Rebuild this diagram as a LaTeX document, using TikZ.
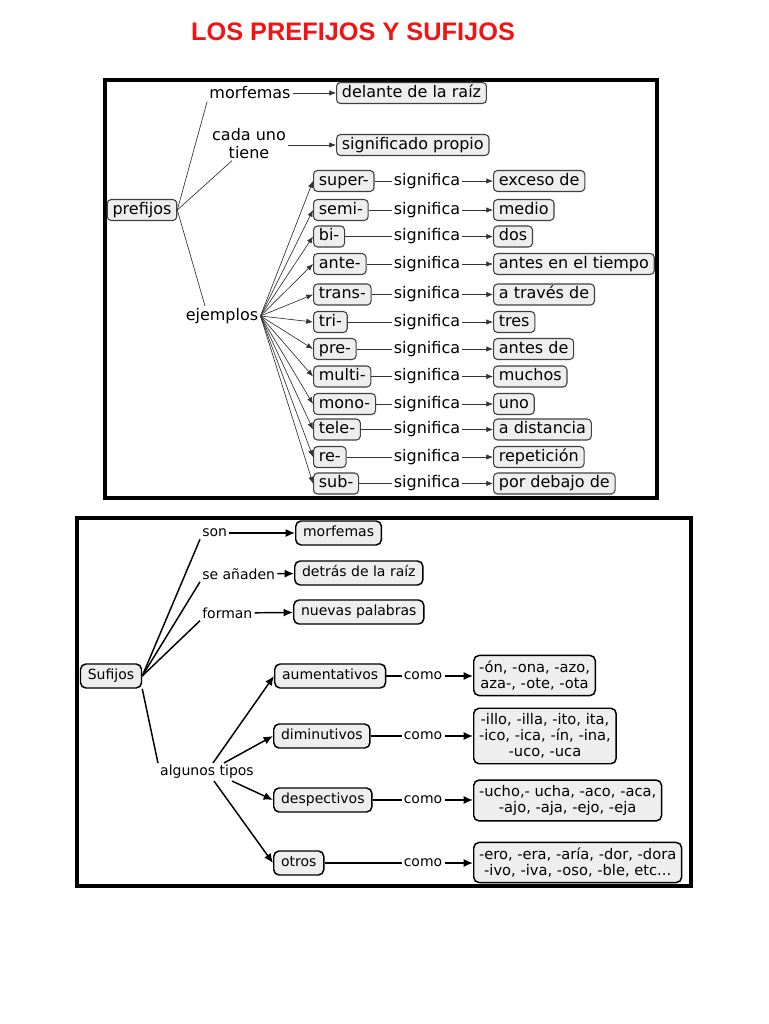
\documentclass[tikz,border=0pt]{standalone}
\usepackage{fontspec}
\setmainfont{DejaVu Sans}
\newfontfamily\titlefont{Liberation Sans}
\usetikzlibrary{arrows.meta,calc}
\definecolor{boxfill}{HTML}{EEEEEE}
\definecolor{titlered}{HTML}{F01414}
\begin{document}
\begin{tikzpicture}[x=0.75pt,y=-0.75pt,
  topbox/.style={draw=black!75, line width=0.8pt, rounded corners=3pt, fill=boxfill,
    font=\fontsize{12}{14}\selectfont, inner xsep=4pt, inner ysep=0pt,
    minimum height=15.75pt, text height=9pt, text depth=2.6pt},
  toplab/.style={font=\fontsize{12}{13}\selectfont, inner sep=1.5pt, align=center},
  topln/.style={draw=black!80, line width=0.5pt},
  toparr/.style={topln, -{Latex[length=5pt,width=4pt]}},
  botbox/.style={draw=black, line width=1.1pt, rounded corners=4pt, fill=boxfill,
    font=\fontsize{10.5}{12}\selectfont, inner xsep=5.5pt, inner ysep=0pt,
    minimum height=18pt, text height=8pt, text depth=2.4pt},
  listbox/.style={draw=black, line width=1.1pt, rounded corners=4pt, fill=boxfill,
    font=\fontsize{11}{12}\selectfont, align=center, inner xsep=4pt, inner ysep=4pt},
  botlab/.style={font=\fontsize{10.5}{12}\selectfont, inner sep=1.5pt},
  botln/.style={draw=black, line width=1.1pt},
  botarr/.style={botln, -{Latex[length=7pt,width=6pt]}},
  frame/.style={draw=black, line width=2.3pt}
]
\useasboundingbox (0,0) rectangle (768,1024);
\fill[white] (0,0) rectangle (768,1024);

% title
\node[font=\titlefont\bfseries\fontsize{19}{22}\selectfont, text=titlered] (title) at (353,32) {LOS PREFIJOS Y SUFIJOS};

% ---------- prefijos panel ----------
\draw[frame] (105,80) rectangle (657,498);

\node[topbox] (pref) at (142,210) {prefijos};
\node[toplab] (morfl) at (250,93) {morfemas};
\node[topbox, anchor=west] (delante) at (336,93) {delante de la raíz};
\node[toplab] (cada) at (249,143.5) {cada uno\\tiene};
\node[topbox, anchor=west] (sigprop) at (336,145) {significado propio};
\node[toplab] (ejemplos) at (222,316) {ejemplos};

\draw[topln] (pref.east) -- (morfl.south west);
\draw[topln] (pref.east) -- ($(cada.south)+(-17,0)$);
\draw[topln] (pref.east) -- ($(ejemplos.north)+(-17,0)$);
\draw[toparr] (morfl) -- (delante);
\draw[toparr] (cada.east |- sigprop) -- (sigprop);

\foreach \i/\pre/\res/\yy in {
  1/super-/exceso de/181,
  2/semi-/medio/210,
  3/bi-/dos/236.5,
  4/ante-/antes en el tiempo/264,
  5/trans-/a través de/294.5,
  6/tri-/tres/322,
  7/pre-/antes de/349,
  8/multi-/muchos/376.5,
  9/mono-/uno/404,
  10/tele-/a distancia/429.5,
  11/re-/repetición/457,
  12/sub-/por debajo de/483.5} {
  \node[topbox, anchor=west] (p\i) at (313,\yy) {\pre};
  \node[toplab] (s\i) at (427,\yy) {significa};
  \node[topbox, anchor=west] (r\i) at (493,\yy) {\res};
  \draw[topln] (p\i) -- (s\i);
  \draw[toparr] (s\i) -- (r\i);
  \draw[toparr] (ejemplos.east) -- (p\i.west);
}

% ---------- sufijos panel ----------
\draw[frame] (77,518) rectangle (691,886);

\node[botbox] (suf) at (111,676) {Sufijos};
\node[botlab, anchor=west] (son) at (200,533) {son};
\node[botbox, anchor=west] (morf) at (295,533) {morfemas};
\node[botlab, anchor=west] (anad) at (200,574) {se añaden};
\node[botbox, anchor=west] (detras) at (294,573) {detrás de la raíz};
\node[botlab, anchor=west] (forman) at (200,613) {forman};
\node[botbox, anchor=west] (nuevas) at (293,612) {nuevas palabras};

\draw[botln] (suf.east) -- (son.south west);
\draw[botln] (suf.east) -- (anad.south west);
\draw[botln] (suf.east) -- (forman.south west);
\draw[botarr] (son) -- (morf);
\draw[botarr] (anad) -- (detras);
\draw[botarr] (forman) -- (nuevas);

\node[botlab] (alg) at (207,772) {algunos tipos};
\draw[botln] (suf.south east) -- (alg.north west);

\node[botbox, anchor=west] (aum) at (274,676) {aumentativos};
\node[botbox, anchor=west] (dim) at (273,736) {diminutivos};
\node[botbox, anchor=west] (desp) at (273,800) {despectivos};
\node[botbox, anchor=west] (otros) at (273,863) {otros};

\draw[botarr] ($(alg.north)+(6,0)$) -- (aum.west);
\draw[botarr] ($(alg.north)+(17,0)$) -- (dim.west);
\draw[botarr] ($(alg.south)+(25,0)$) -- (desp.west);
\draw[botarr] ($(alg.south)+(7,0)$) -- (otros.west);

\node[botlab] (c1) at (423,676) {como};
\node[botlab] (c2) at (423,736) {como};
\node[botlab] (c3) at (423,800) {como};
\node[botlab] (c4) at (423,863) {como};

\node[listbox, anchor=west] (l1) at (473,675.5) {-ón, -ona, -azo,\\aza-, -ote, -ota};
\node[listbox, anchor=west] (l2) at (473,736) {-illo, -illa, -ito, ita,\\-ico, -ica, -ín, -ina,\\-uco, -uca};
\node[listbox, anchor=west] (l3) at (473,800.5) {-ucho,- ucha, -aco, -aca,\\-ajo, -aja, -ejo, -eja};
\node[listbox, anchor=west] (l4) at (473,862.5) {-ero, -era, -aría, -dor, -dora\\-ivo, -iva, -oso, -ble, etc...};

\draw[botln] (aum) -- (c1);
\draw[botln] (dim) -- (c2);
\draw[botln] (desp) -- (c3);
\draw[botln] (otros) -- (c4);
\draw[botarr] (c1) -- (l1.west |- c1);
\draw[botarr] (c2) -- (l2.west |- c2);
\draw[botarr] (c3) -- (l3.west |- c3);
\draw[botarr] (c4) -- (l4.west |- c4);
\end{tikzpicture}
\end{document}
